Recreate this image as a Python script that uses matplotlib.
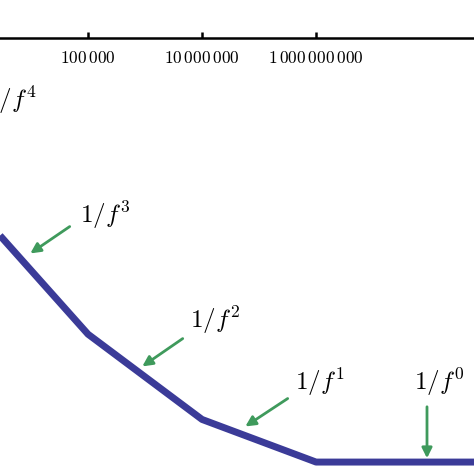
import numpy as np
import matplotlib
matplotlib.use('Agg')
import matplotlib.pyplot as plt
from matplotlib.ticker import FixedLocator, FixedFormatter

plt.rcParams['mathtext.fontset'] = 'cm'

# power-law breakpoints (frequency, PSD)
freq = [10**3.456, 1e5, 1e7, 1e9, 10**11.8]
psd = [10**10.63, 1e6, 1e2, 1.0, 1.0]
tick_vals = [1e5, 1e7, 1e9]
tick_labels = [r'$100\,000$', r'$10\,000\,000$', r'$1\,000\,000\,000$']

# (label, text pos px from top-left, arrow tail, arrow head)
notes = [
    (r'$1/f^4$', (-14, 100), None, None),
    (r'$1/f^3$', (80, 215), (72, 225), (28, 255)),
    (r'$1/f^2$', (190, 320), (185, 337), (140, 368)),
    (r'$1/f^1$', (295, 382), (290, 397), (243, 428)),
    (r'$1/f^0$', (414, 382), (427, 404), (427, 461)),
]

H = 474
fig = plt.figure(figsize=(4.74, 4.74), dpi=100)
ax = fig.add_axes([0, 0, 1, 1 - 38 / H])
ax.plot(freq, psd, color='#3b3b98', lw=5, solid_capstyle='butt')
ax.set_xscale('log'); ax.set_yscale('log')
ax.set_xlim(10**3.456, 10**11.77)
ax.set_ylim(10**-0.56, 10**19.9)
for s in ['left', 'right', 'bottom']:
    ax.spines[s].set_visible(False)
ax.spines['top'].set_linewidth(1.8)
ax.xaxis.set_major_locator(FixedLocator(tick_vals))
ax.xaxis.set_major_formatter(FixedFormatter(tick_labels))
ax.xaxis.set_minor_locator(FixedLocator([]))
ax.tick_params(axis='x', bottom=False, labelbottom=False, top=True, labeltop=False,
               direction='out', length=4, width=1.8)
for v, l in zip(tick_vals, tick_labels):
    ax.text(v, 1 - 20 / (H - 38), l, transform=ax.get_xaxis_transform(),
            ha='center', va='center', fontsize=12.5)
ax.yaxis.set_visible(False)

for label, tp, tail, head in notes:
    fig.text(tp[0] / H, 1 - tp[1] / H, label, fontsize=18, va='center', ha='left')
    if tail:
        ax.annotate('', xy=(head[0], H - head[1]), xytext=(tail[0], H - tail[1]),
                    xycoords='figure pixels', textcoords='figure pixels',
                    arrowprops=dict(arrowstyle='-|>,head_length=0.6,head_width=0.3',
                                    color='#3f9a5c', lw=2))
fig.savefig('out.png', dpi=100)
